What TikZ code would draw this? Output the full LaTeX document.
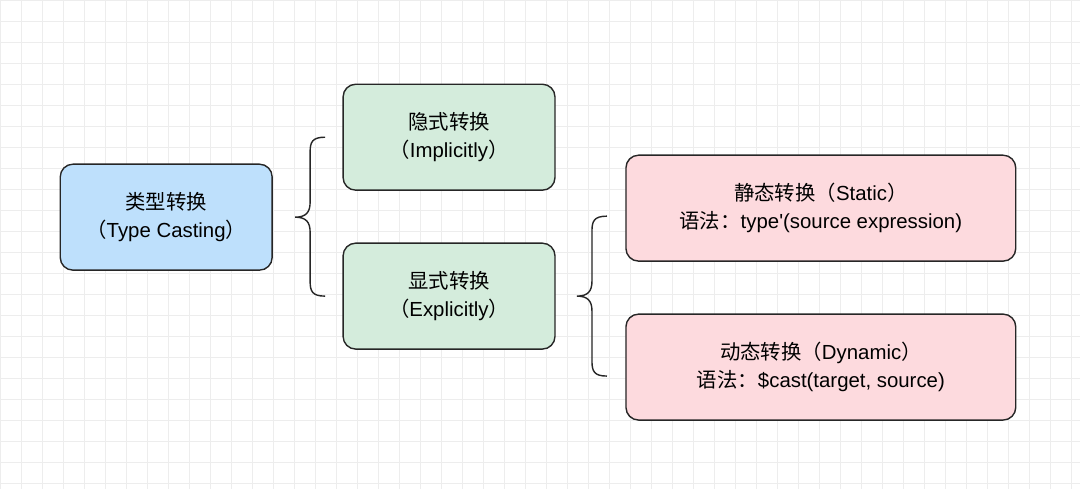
\documentclass[tikz,border=0pt]{standalone}
\usepackage{fontspec}
\setmainfont{Liberation Sans}[Ligatures=ResetAll]
\newfontfamily\cjk{Noto Sans CJK SC}
\usetikzlibrary{positioning}
\definecolor{castblue}{RGB}{190,224,252}
\definecolor{kindgreen}{RGB}{212,236,220}
\definecolor{waypink}{RGB}{253,218,222}
\tikzset{
  box/.style={draw=black!85,line width=1pt,rounded corners=9pt,minimum height=106*0.025cm,
    align=center,font=\fontsize{14.5}{20}\selectfont},
  castbox/.style={box,fill=castblue,minimum width=212*0.025cm},
  kindbox/.style={box,fill=kindgreen,minimum width=212*0.025cm},
  waybox/.style={box,fill=waypink,minimum width=390*0.025cm},
  bracket/.style={draw=black!85,line width=1pt}
}
\begin{document}
\begin{tikzpicture}[x=0.025cm,y=-0.025cm]
\fill[white] (0,0) rectangle (1080,489);
\draw[black!7,step=0.525cm] (0,0) grid (1080,489);
\useasboundingbox (0,0) rectangle (1080,489);
% boxes
\node[castbox] (cast) at (166,217) {{\cjk 类型转换}\\{\cjk （}Type Casting{\cjk ）}};
\node[kindbox] (impl) at (449,137) {{\cjk 隐式转换}\\{\cjk （}Implicitly{\cjk ）}};
\node[kindbox] (expl) at (449,296) {{\cjk 显式转换}\\{\cjk （}Explicitly{\cjk ）}};
\node[waybox] (stat) at (821,208) {{\cjk 静态转换（}Static{\cjk ）}\\{\cjk 语法：}type\textquotesingle(source expression)};
\node[waybox] (dyn) at (821,367) {{\cjk 动态转换（}Dynamic{\cjk ）}\\{\cjk 语法：}\$cast(target, source)};
% braces
\draw[bracket] (325,137) .. controls (312,137) and (310,142) .. (310,152) -- (310,202)
  .. controls (310,212) and (306,217) .. (295,217)
  .. controls (306,217) and (310,222) .. (310,232) -- (310,281)
  .. controls (310,291) and (312,296) .. (325,296);
\draw[bracket] (607,216) .. controls (594,216) and (592,221) .. (592,231) -- (592,281)
  .. controls (592,291) and (588,296) .. (577,296)
  .. controls (588,296) and (592,301) .. (592,311) -- (592,361)
  .. controls (592,371) and (594,376) .. (607,376);
\end{tikzpicture}
\end{document}
